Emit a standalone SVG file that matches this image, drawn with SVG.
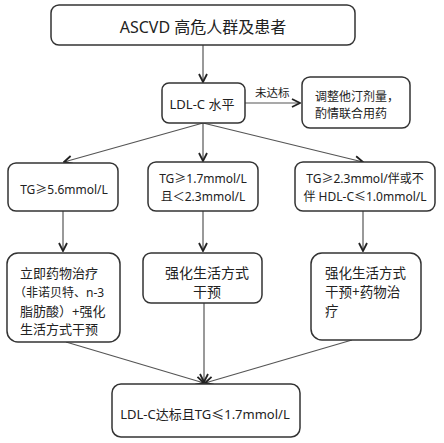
<svg xmlns="http://www.w3.org/2000/svg" width="444" height="443" viewBox="0 0 444 443">
<style>
.box{fill:#fff;stroke:#333;stroke-width:1.5}
.t{font-family:"Noto Sans","Noto Sans CJK SC",sans-serif;fill:#222;dominant-baseline:central}
.c{text-anchor:middle}
.ln{stroke:#555;stroke-width:1.2;fill:none;marker-end:url(#ah)}
</style>
<defs>
<marker id="ah" markerUnits="userSpaceOnUse" viewBox="0 0 10 10" refX="9" refY="5" markerWidth="10" markerHeight="10" orient="auto">
<path d="M1,1 L9,5 L1,9" fill="none" stroke="#222" stroke-width="1.8"/>
</marker>
</defs>
<rect width="444" height="443" fill="#fff"/>
<g id="connectors">
<line class="ln" x1="203" y1="45" x2="203" y2="82"/>
<line class="ln" x1="245" y1="103" x2="300" y2="103"/>
<line class="ln" x1="203" y1="123" x2="64" y2="162"/>
<line class="ln" x1="203" y1="123" x2="203" y2="161"/>
<line class="ln" x1="203" y1="123" x2="363" y2="162"/>
<line class="ln" x1="63" y1="211" x2="63" y2="251"/>
<line class="ln" x1="203" y1="211" x2="203" y2="251"/>
<line class="ln" x1="363" y1="211" x2="363" y2="251"/>
<line class="ln" x1="66" y1="342" x2="204" y2="383"/>
<line class="ln" x1="204" y1="303" x2="204" y2="382"/>
<line class="ln" x1="352" y1="340" x2="205" y2="383"/>
<text class="t" x="255" y="92" font-size="11.5">未达标</text>
</g>
<g id="n-top">
<rect class="box" x="51" y="5" width="304" height="40" rx="8"/>
<text class="t c" x="203" y="27" font-size="16">ASCVD 高危人群及患者</text>
</g>
<g id="n-ldl">
<rect class="box" x="162" y="83" width="83" height="40" rx="7"/>
<text class="t c" x="202" y="104" font-size="13">LDL-C 水平</text>
</g>
<g id="n-adjust">
<rect class="box" x="302" y="77" width="108" height="51" rx="8"/>
<text class="t" x="315" y="96" font-size="12">调整他汀剂量，</text>
<text class="t" x="315" y="113" font-size="12">酌情联合用药</text>
</g>
<g id="n-tg56">
<rect class="box" x="8" y="163" width="110" height="48" rx="8"/>
<text class="t c" x="64" y="189" font-size="12">TG≥5.6mmol/L</text>
</g>
<g id="n-tg17">
<rect class="box" x="148" y="162" width="110" height="49" rx="8"/>
<text class="t c" x="203" y="178" font-size="12">TG≥1.7mmol/L</text>
<text class="t c" x="203" y="196" font-size="12">且＜2.3mmol/L</text>
</g>
<g id="n-tg23">
<rect class="box" x="295" y="162" width="140" height="49" rx="8"/>
<text class="t c" x="365" y="178" font-size="12">TG≥2.3mmol/伴或不</text>
<text class="t c" x="365" y="196" font-size="12">伴 HDL-C≤1.0mmol/L</text>
</g>
<g id="n-drug">
<rect class="box" x="7" y="253" width="113" height="89" rx="11"/>
<text class="t" x="20" y="273" font-size="13">立即药物治疗</text>
<text class="t" x="14" y="292" font-size="12">（非诺贝特、n-3</text>
<text class="t" x="20" y="311" font-size="13">脂肪酸）+强化</text>
<text class="t" x="20" y="329" font-size="13">生活方式干预</text>
</g>
<g id="n-life">
<rect class="box" x="143" y="253" width="119" height="50" rx="8"/>
<text class="t c" x="207" y="272" font-size="14">强化生活方式</text>
<text class="t c" x="207" y="291" font-size="14">干预</text>
</g>
<g id="n-lifedrug">
<rect class="box" x="311" y="253" width="110" height="87" rx="11"/>
<text class="t" x="325" y="273" font-size="13.5">强化生活方式</text>
<text class="t" x="325" y="292" font-size="13.5">干预+药物治</text>
<text class="t" x="325" y="311" font-size="13.5">疗</text>
</g>
<g id="n-goal">
<rect class="box" x="112" y="384" width="188" height="53" rx="9"/>
<text class="t c" x="205" y="414" font-size="13">LDL-C达标且TG≤1.7mmol/L</text>
</g>
</svg>
